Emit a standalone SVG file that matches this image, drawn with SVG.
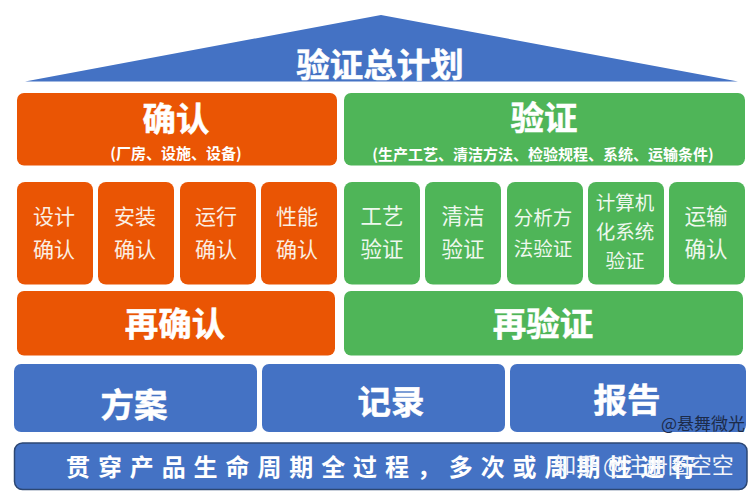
<svg xmlns="http://www.w3.org/2000/svg" width="754" height="497" viewBox="0 0 754 497">
<style>
text{font-family:"Noto Sans CJK SC","Liberation Sans",sans-serif;fill:#fff;text-anchor:middle}
.o{fill:#ea5504}.g{fill:#4fb558}.b{fill:#4472c4}
.t{font-size:21px;fill:#fbeee2}
.tg{font-size:21.500px;fill:#eef8ee}
.tn{font-size:19.500px;fill:#eef8ee}
.s{font-size:15px;font-weight:700}
.big{font-size:33.500px;font-weight:700;stroke:#fff;stroke-width:.5px}
</style>
<rect width="754" height="497" fill="#fff"/>
<g id="roof"><polygon class="b" points="381,15 738,81.500 25,81.500"/><text class="big" x="380" y="77">验证总计划</text></g>
<g id="confirm"><rect class="o" x="17" y="93" width="320" height="72.500" rx="7"/><text class="big" x="176" y="131">确认</text><text class="s" x="176" y="159">(厂房、设施、设备)</text></g>
<g id="verify"><rect class="g" x="344" y="93" width="401" height="72.500" rx="7"/><text class="big" x="544" y="130">验证</text><text class="s" x="543" y="160">(生产工艺、清洁方法、检验规程、系统、运输条件)</text></g>
<g id="n1"><rect class="o" x="17" y="182" width="76" height="102.500" rx="8"/><text class="t" x="54" y="224">设计</text><text class="t" x="54" y="257">确认</text></g>
<g id="n2"><rect class="o" x="98" y="182" width="76" height="102.500" rx="8"/><text class="t" x="135" y="224">安装</text><text class="t" x="135" y="257">确认</text></g>
<g id="n3"><rect class="o" x="180" y="182" width="76" height="102.500" rx="8"/><text class="t" x="216" y="224">运行</text><text class="t" x="216" y="257">确认</text></g>
<g id="n4"><rect class="o" x="261" y="182" width="76" height="102.500" rx="8"/><text class="t" x="297" y="224">性能</text><text class="t" x="297" y="257">确认</text></g>
<g id="n5"><rect class="g" x="344" y="182" width="76" height="102.500" rx="8"/><text class="tg" x="382" y="224">工艺</text><text class="tg" x="382" y="257">验证</text></g>
<g id="n6"><rect class="g" x="425" y="182" width="76" height="102.500" rx="8"/><text class="tg" x="463" y="224">清洁</text><text class="tg" x="463" y="257">验证</text></g>
<g id="n7"><rect class="g" x="507" y="182" width="76" height="102.500" rx="8"/><text class="tn" x="543" y="225">分析方</text><text class="tn" x="543" y="256">法验证</text></g>
<g id="n8"><rect class="g" x="588" y="182" width="76" height="102.500" rx="8"/><text class="tn" x="625" y="210">计算机</text><text class="tn" x="625" y="239">化系统</text><text class="tn" x="625" y="268">验证</text></g>
<g id="n9"><rect class="g" x="669" y="182" width="76" height="102.500" rx="8"/><text class="tg" x="706" y="224">运输</text><text class="tg" x="706" y="257">确认</text></g>
<g id="reconfirm"><rect class="o" x="17" y="291" width="318" height="64.500" rx="7"/><text class="big" x="175" y="336">再确认</text></g>
<g id="reverify"><rect class="g" x="344" y="291" width="399" height="64.500" rx="7"/><text class="big" x="543" y="336">再验证</text></g>
<g id="plan"><rect class="b" x="14" y="364" width="243" height="68" rx="7"/><text class="big" x="134" y="417">方案</text></g>
<g id="record"><rect class="b" x="262" y="364" width="243" height="68" rx="7"/><text class="big" x="391" y="414">记录</text></g>
<g id="report"><rect class="b" x="510" y="364" width="236" height="68" rx="7"/><text class="big" x="627" y="412">报告</text></g>
<g id="span"><rect class="b" x="14.500" y="443" width="732.500" height="46.500" rx="8" stroke="#2c4773" stroke-width="1.500"/><text x="66" y="476" font-size="24" font-weight="700" style="text-anchor:start" letter-spacing="7.900">贯穿产品生命周期全过程，多次或周期性进行</text></g>
<g id="marks"><text x="703" y="430" font-size="17" style="fill:#1c2b4a">@悬舞微光</text><text x="644" y="473" font-size="22" style="fill:#f2f5fa">知乎 @注册圈空空</text></g>
<g id="connectors"></g>
</svg>
